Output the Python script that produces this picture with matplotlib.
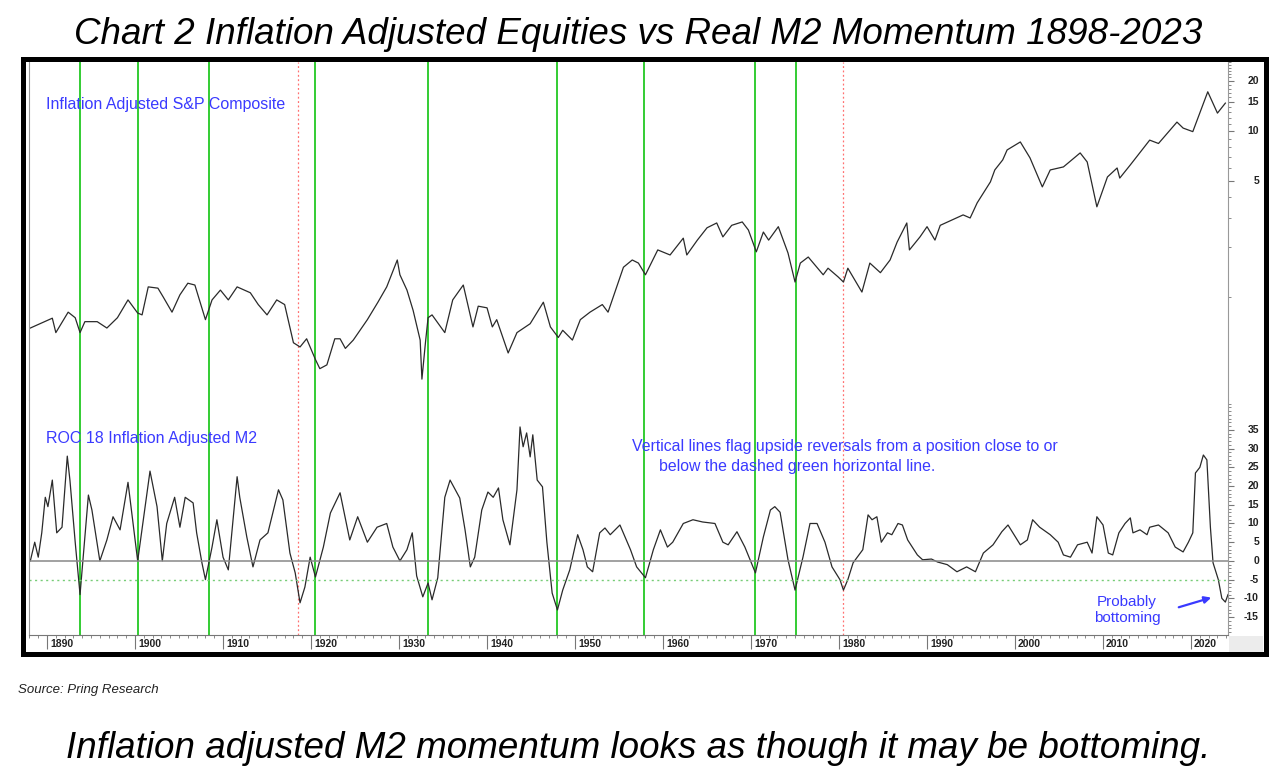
import matplotlib
matplotlib.use("Agg")
import matplotlib.pyplot as plt
from matplotlib.patches import Rectangle
from matplotlib.ticker import FixedLocator, NullFormatter

plt.rcParams['font.family'] = ['Liberation Sans', 'DejaVu Sans']

# inflation adjusted S&P composite
sp_year = [1888.1, 1890.6, 1891.0, 1892.4, 1893.2, 1893.75, 1894.3, 1895.7, 1896.8, 1898.0,
           1899.2, 1900.3, 1900.8, 1901.5, 1902.6, 1903.2, 1904.2, 1905.1, 1906.0, 1906.8,
           1908.0, 1908.75, 1909.7, 1910.6, 1911.6, 1913.1, 1914.0, 1915.0, 1916.1, 1917.0,
           1918.0, 1918.75, 1919.5, 1920.5, 1921.0, 1921.8, 1922.7, 1923.3, 1923.9, 1924.8,
           1926.4, 1927.6, 1928.6, 1929.8, 1930.1, 1930.9, 1931.6, 1932.4, 1932.6, 1933.0,
           1933.3, 1933.75, 1935.2, 1936.1, 1937.3, 1938.4, 1939.0, 1940.0, 1940.6, 1941.1,
           1942.4, 1943.4, 1944.9, 1946.4, 1947.2, 1948.1, 1948.6, 1949.7, 1950.6, 1951.7,
           1953.1, 1953.75, 1955.5, 1956.5, 1957.2, 1958.0, 1959.4, 1960.8, 1962.3, 1962.7,
           1963.9, 1965.0, 1966.1, 1966.8, 1967.8, 1969.0, 1969.7, 1970.6, 1971.4, 1972.0,
           1973.1, 1974.2, 1975.0, 1975.6, 1976.5, 1978.2, 1978.75, 1979.9, 1980.5, 1981.0,
           1982.6, 1983.5, 1984.7, 1985.8, 1986.6, 1987.7, 1988.0, 1989.2, 1990.0, 1990.9,
           1991.5, 1994.1, 1994.9, 1995.7, 1997.2, 1997.7, 1998.6, 1999.1, 2000.6, 2001.7,
           2003.1, 2004.0, 2005.5, 2007.4, 2008.2, 2009.3, 2010.5, 2011.6, 2011.9, 2013.1,
           2015.3, 2016.3, 2018.4, 2019.1, 2020.2, 2021.9, 2023.0, 2023.9]
sp_value = [0.65, 0.745, 0.61, 0.81, 0.75, 0.61, 0.71, 0.71, 0.65, 0.75,
            0.96, 0.80, 0.78, 1.15, 1.13, 1.00, 0.81, 1.03, 1.21, 1.18,
            0.73, 0.96, 1.10, 0.96, 1.15, 1.06, 0.90, 0.78, 0.96, 0.90,
            0.53, 0.50, 0.56, 0.42, 0.37, 0.39, 0.56, 0.56, 0.49, 0.55,
            0.73, 0.93, 1.15, 1.67, 1.36, 1.10, 0.83, 0.55, 0.32, 0.53,
            0.75, 0.78, 0.61, 0.96, 1.18, 0.66, 0.88, 0.86, 0.66, 0.73,
            0.46, 0.61, 0.69, 0.93, 0.66, 0.57, 0.63, 0.55, 0.73, 0.81,
            0.90, 0.81, 1.51, 1.67, 1.60, 1.36, 1.92, 1.79, 2.26, 1.79,
            2.20, 2.61, 2.79, 2.30, 2.70, 2.83, 2.53, 1.87, 2.46, 2.20,
            2.65, 1.84, 1.23, 1.60, 1.74, 1.36, 1.49, 1.32, 1.23, 1.49,
            1.07, 1.60, 1.40, 1.67, 2.14, 2.79, 1.92, 2.30, 2.65, 2.20,
            2.70, 3.12, 2.99, 3.69, 4.93, 5.82, 6.69, 7.68, 8.58, 6.88,
            4.60, 5.82, 6.07, 7.37, 6.50, 3.49, 5.28, 5.98, 5.20, 6.24,
            8.80, 8.40, 11.3, 10.4, 9.9, 17.2, 12.8, 14.7]

# ROC 18 inflation adjusted M2
roc_year = [1888.1, 1888.6, 1889.0, 1889.4, 1889.8, 1890.1, 1890.6, 1891.1, 1891.7, 1892.3,
            1892.6, 1893.2, 1893.75, 1894.7, 1895.1, 1896.0, 1896.8, 1897.5, 1898.3, 1899.2,
            1900.3, 1901.7, 1902.5, 1903.1, 1903.6, 1904.5, 1905.1, 1905.7, 1906.6, 1907.0,
            1907.6, 1908.0, 1908.75, 1909.3, 1910.0, 1910.6, 1911.6, 1911.9, 1912.7, 1913.4,
            1914.2, 1915.1, 1916.3, 1916.8, 1917.6, 1918.2, 1918.75, 1919.3, 1919.9, 1920.5,
            1921.4, 1922.2, 1923.3, 1924.4, 1925.3, 1926.4, 1927.5, 1928.6, 1929.3, 1930.1,
            1930.9, 1931.5, 1932.0, 1932.7, 1933.3, 1933.75, 1934.4, 1935.2, 1935.8, 1936.4,
            1936.9, 1937.5, 1938.1, 1938.6, 1939.4, 1940.1, 1940.7, 1941.3, 1941.8, 1942.6,
            1943.4, 1943.75, 1944.1, 1944.5, 1944.9, 1945.2, 1945.7, 1946.3, 1946.8, 1947.4,
            1948.0, 1948.6, 1949.4, 1950.3, 1950.9, 1951.4, 1952.0, 1952.8, 1953.4, 1954.0,
            1955.1, 1956.3, 1957.0, 1958.0, 1958.9, 1959.7, 1960.5, 1961.1, 1962.3, 1963.4,
            1964.5, 1965.9, 1966.8, 1967.4, 1968.4, 1969.3, 1970.5, 1971.4, 1972.2, 1972.7,
            1973.3, 1974.2, 1975.0, 1975.9, 1976.7, 1977.5, 1978.4, 1979.2, 1980.1, 1980.5,
            1981.0, 1981.6, 1982.7, 1983.3, 1983.75, 1984.3, 1984.8, 1985.5, 1986.0, 1986.7,
            1987.2, 1987.8, 1988.9, 1989.5, 1990.5, 1991.2, 1992.3, 1993.4, 1994.5, 1995.5,
            1996.4, 1997.5, 1998.5, 1999.2, 2000.6, 2001.4, 2002.0, 2002.8, 2004.0, 2004.9,
            2005.5, 2006.3, 2007.1, 2008.2, 2008.75, 2009.3, 2010.0, 2010.6, 2011.1, 2011.8,
            2012.5, 2013.1, 2013.4, 2014.2, 2015.0, 2015.3, 2016.3, 2017.4, 2018.2, 2019.1,
            2019.7, 2020.2, 2020.5, 2021.0, 2021.4, 2021.8, 2022.2, 2022.5, 2023.1, 2023.5,
            2023.9, 2024.2]
roc_value = [0, 5, 1, 7.5, 17, 14.5, 21.6, 7.5, 9, 28,
             21.6, 5, -9, 17.6, 13.6, 0, 5.6, 11.8, 8.3, 21,
             0, 24, 14.5, 0, 10, 17, 9, 17, 15.5, 7.5,
             -0.5, -5, 3.7, 11, 1, -2.4, 22.5, 17, 6.4, -1.6,
             5.6, 7.5, 19, 16.3, 2.1, -3.2, -11.2, -7, 1, -4.3,
             3.7, 12.8, 18.2, 5.6, 11.8, 5, 9, 10, 3.7, 0,
             3, 7.5, -4, -9.6, -5.9, -10.4, -4.5, 17, 21.6, 19,
             16.8, 8.3, -1.6, 1, 13.6, 18.4, 17, 19.5, 11, 4.3,
             19, 35.8, 30.5, 34.2, 27.8, 33.7, 21.6, 19.8, 5, -8.6,
             -13.1, -7.8, -2.4, 7, 3, -1.6, -2.9, 7.5, 8.8, 7,
             9.6, 3, -1.6, -4.5, 3, 8.3, 3.7, 5, 10, 11,
             10.4, 10, 5, 4.3, 7.8, 3.7, -3.2, 6.4, 13.6, 14.5,
             13, 0.3, -7.8, 1, 10, 10, 5, -1.6, -5, -7.8,
             -5, -0.5, 3, 12.3, 11, 11.8, 5, 7.5, 7, 10,
             9.6, 5.6, 1.6, 0.3, 0.5, -0.3, -1, -2.9, -1.6, -2.9,
             2.1, 4.3, 7.8, 9.6, 4.3, 5.6, 11, 9, 7, 5,
             1.6, 1, 4.3, 5, 2.1, 11.8, 9.6, 2.1, 1.6, 7.5,
             10, 11.5, 7.5, 8.3, 7, 9, 9.6, 7.5, 3.7, 2.4,
             5, 7.5, 23.5, 25, 28.3, 27, 9, -0.5, -5, -10,
             -11, -9]

green_years = [1893.75, 1900.35, 1908.4, 1920.45, 1933.3, 1947.95, 1957.85, 1970.45, 1975.1]
red_years = [1918.5, 1980.45]
decades = list(range(1890, 2021, 10))
sp_labels = [5, 10, 15, 20]
roc_labels = [35, 30, 25, 20, 15, 10, 5, 0, -5, -10, -15]

W, H = 1280, 770
BLUE = '#3a3aff'
GREEN = '#33cc33'


def fx(px):
    return px / W


def fy(py):
    return 1 - py / H


fig = plt.figure(figsize=(12.8, 7.7), dpi=100)
left, right = 29, 1228
ax1 = fig.add_axes([fx(left), fy(400), fx(right) - fx(left), fy(62) - fy(400)])
ax2 = fig.add_axes([fx(left), fy(635), fx(right) - fx(left), fy(400) - fy(635)], sharex=ax1)

# upper panel
ax1.plot(sp_year, sp_value, color='#2a2a2a', lw=0.9)
ax1.set_yscale('log')
ax1.set_ylim(0.2396, 26.0)

# lower panel
ax2.plot(roc_year, roc_value, color='#2a2a2a', lw=0.9)
ax2.axhline(0, color='#888888', lw=1.1)
ax2.axhline(-5, color='#77cc77', lw=1.0, ls=(0, (1.5, 2.5)))
ax2.set_ylim(-19.8, 43.0)
ax2.set_xlim(1887.95, 2024.2)

for ax in (ax1, ax2):
    for yr in green_years:
        ax.axvline(yr, color=GREEN, lw=1.4, zorder=1)
    for yr in red_years:
        ax.axvline(yr, color='#ff7070', lw=0.9, ls=(0, (1.5, 2)), zorder=1)
    ax.spines['top'].set_visible(False)
    ax.spines['left'].set_color('#999999')
    ax.spines['right'].set_color('#999999')
    ax.yaxis.tick_right()
    ax.tick_params(axis='y', which='major', length=4, color='#777777', labelright=False)
    ax.tick_params(axis='y', which='minor', length=2, color='#777777', labelright=False)

ax1.spines['bottom'].set_visible(False)
ax1.tick_params(axis='x', which='both', bottom=False, labelbottom=False)
ax1.yaxis.set_major_locator(FixedLocator(sp_labels))
ax1.yaxis.set_minor_locator(FixedLocator([v for v in range(1, 27) if v not in sp_labels]))
ax1.yaxis.set_minor_formatter(NullFormatter())
ax1.yaxis.set_major_formatter(NullFormatter())

ax2.yaxis.set_major_locator(FixedLocator(roc_labels))
ax2.yaxis.set_minor_locator(FixedLocator(list(range(-19, 43))))
ax2.yaxis.set_major_formatter(NullFormatter())
ax2.spines['bottom'].set_color('#777777')
ax2.xaxis.set_major_locator(FixedLocator(decades))
ax2.xaxis.set_minor_locator(FixedLocator(list(range(1888, 2025))))
ax2.tick_params(axis='x', which='major', length=10, color='#777777', labelbottom=False)
ax2.tick_params(axis='x', which='minor', length=2.5, color='#777777')

# axis labels as annotations positioned like the original
for v in sp_labels:
    ax1.annotate(str(v), xy=(1, v), xycoords=('axes fraction', 'data'), xytext=(31, 0),
                 textcoords='offset pixels', ha='right', va='center', fontsize=7.5,
                 fontweight='bold', color='#222222')
for v in roc_labels:
    ax2.annotate(str(v), xy=(1, v), xycoords=('axes fraction', 'data'), xytext=(31, 0),
                 textcoords='offset pixels', ha='right', va='center', fontsize=7.5,
                 fontweight='bold', color='#222222')
for d in decades:
    ax2.annotate(str(d), xy=(d, 0), xycoords=('data', 'axes fraction'), xytext=(3, -4),
                 textcoords='offset pixels', ha='left', va='top', fontsize=7.5,
                 fontweight='bold', color='#222222')

# blue annotations
fig.text(fx(46), fy(105), 'Inflation Adjusted S&P Composite', color=BLUE, fontsize=11.5, va='center')
fig.text(fx(46), fy(438), 'ROC 18 Inflation Adjusted M2', color=BLUE, fontsize=11.5, va='center')
fig.text(fx(632), fy(447), 'Vertical lines flag upside reversals from a position close to or',
         color=BLUE, fontsize=11.4, va='center')
fig.text(fx(659), fy(466), 'below the dashed green horizontal line.', color=BLUE, fontsize=11.4, va='center')
fig.text(fx(1127), fy(610), 'Probably\nbottoming', color=BLUE, fontsize=11, ha='center', va='center',
         linespacing=1.1)
ax2.annotate('', xy=(2022.6, -9.6), xytext=(2018.3, -12.6),
             arrowprops=dict(arrowstyle='-|>', color=BLUE, lw=1.6, mutation_scale=10))

# frame, titles
fig.patches.append(Rectangle((fx(1229), fy(652)), fx(1263) - fx(1229), fy(636) - fy(652),
                             transform=fig.transFigure, facecolor='#ececec', edgecolor='none'))
fig.patches.append(Rectangle((fx(23), fy(654)), fx(1266) - fx(23), fy(59) - fy(654),
                             transform=fig.transFigure, facecolor='none', edgecolor='black', lw=3.6))
fig.text(fx(638), fy(34), 'Chart 2 Inflation Adjusted Equities vs Real M2 Momentum 1898-2023',
         ha='center', va='center', fontsize=26.5, style='italic')
fig.text(fx(638), fy(748), 'Inflation adjusted M2 momentum looks as though it may be bottoming.',
         ha='center', va='center', fontsize=26.5, style='italic')
fig.text(fx(18), fy(690), 'Source: Pring Research', ha='left', va='center', fontsize=9.5,
         style='italic', color='#222222')

fig.savefig('out.png', dpi=100)
